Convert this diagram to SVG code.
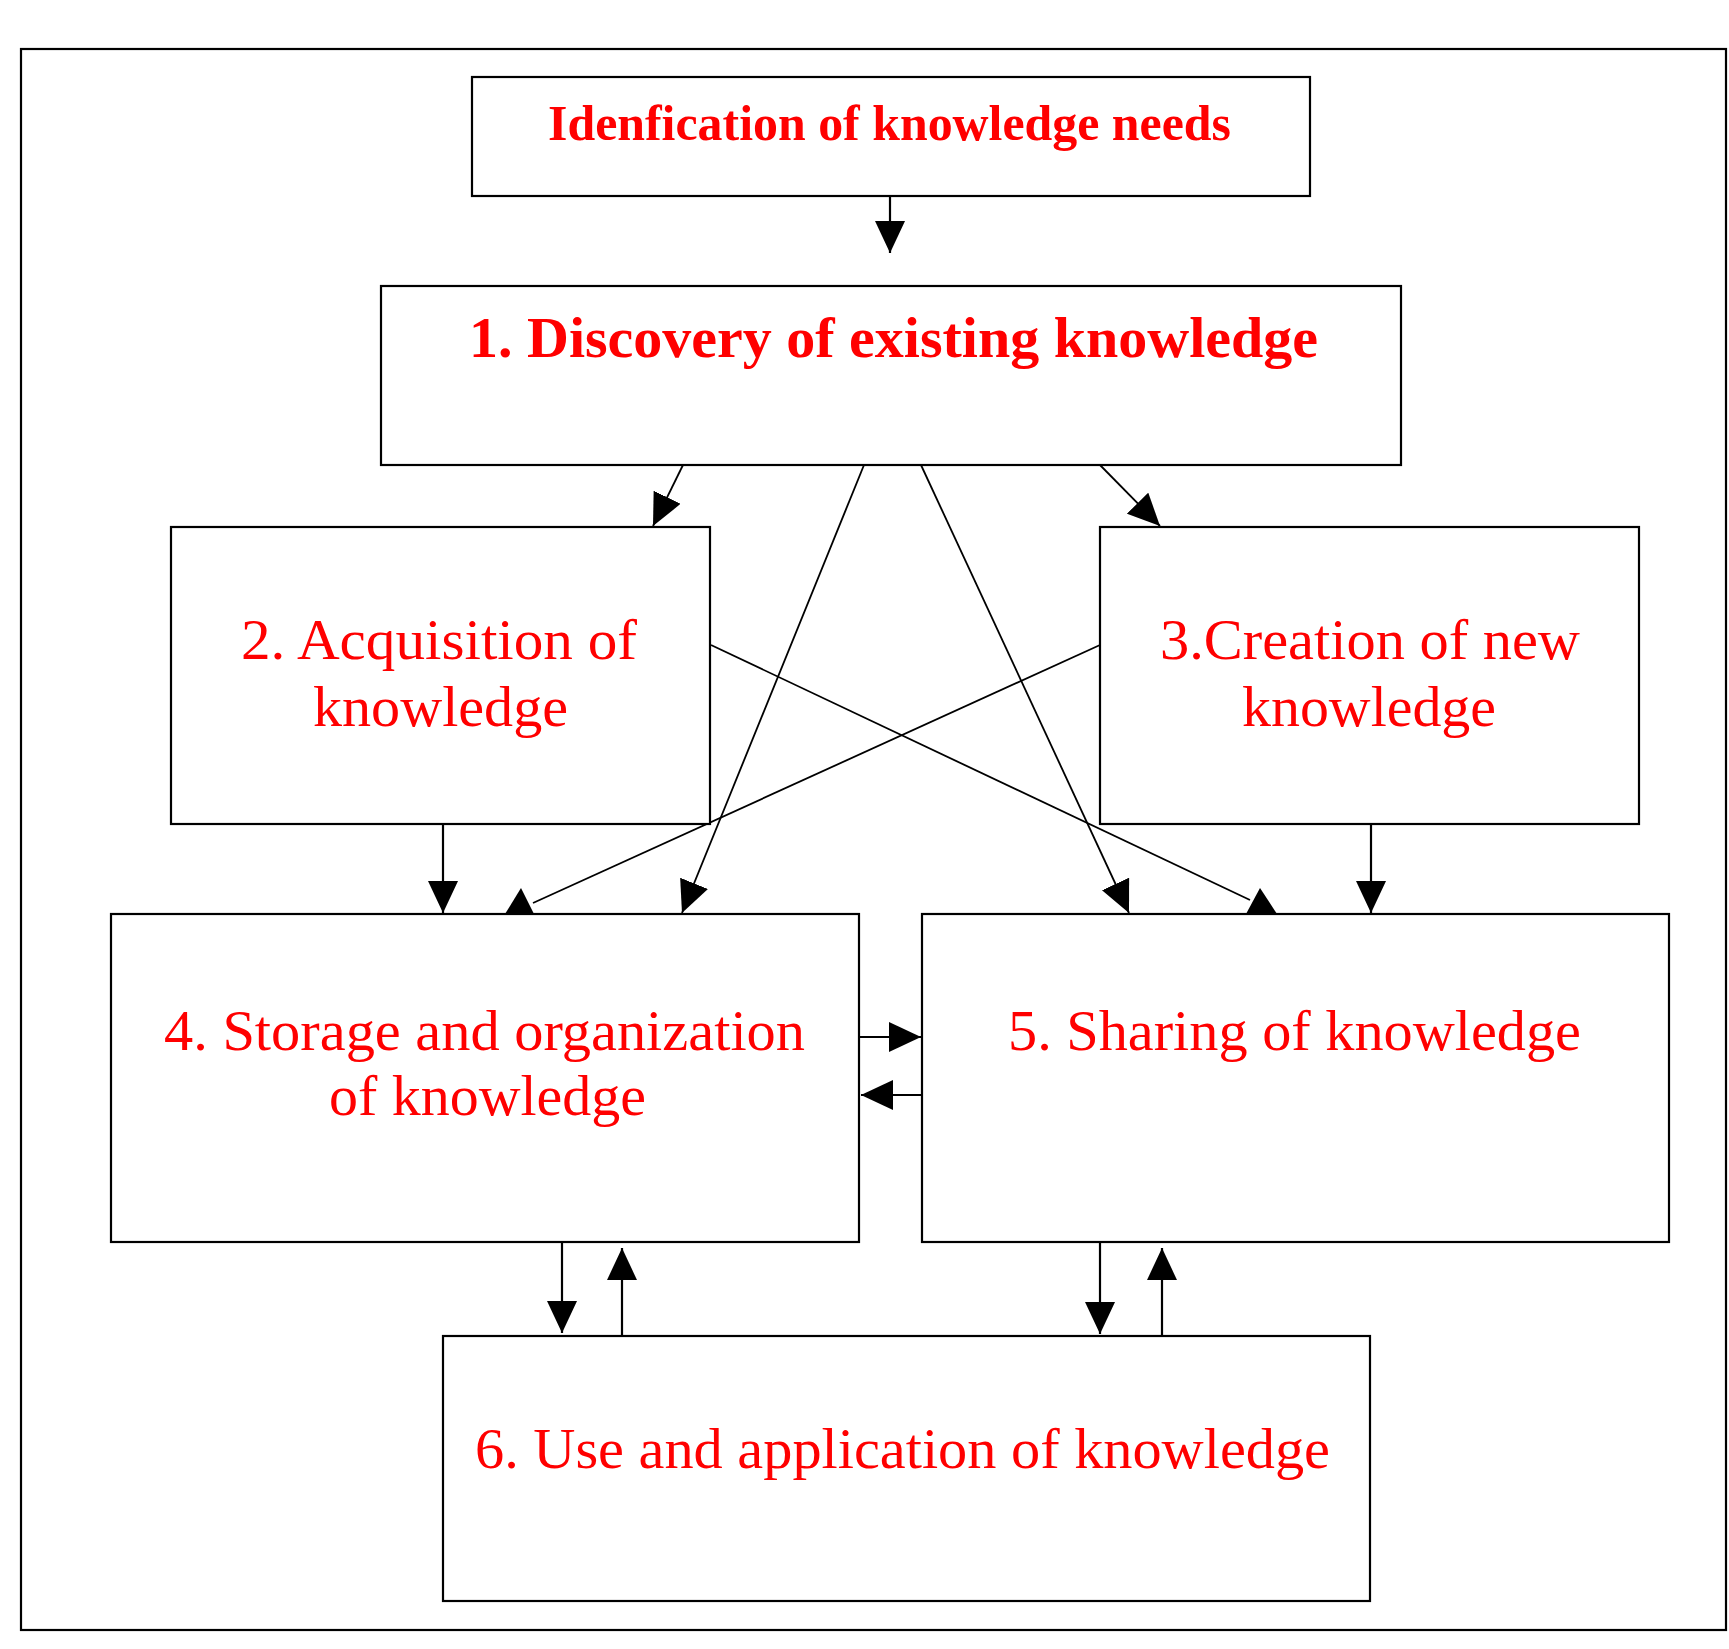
<svg xmlns="http://www.w3.org/2000/svg" width="1729" height="1649" viewBox="0 0 1729 1649">
<style>
.box{fill:#fff;stroke:#000;stroke-width:2.2}
.frame{fill:#fff;stroke:#000;stroke-width:2.2}
.t{fill:#ff0000;font-family:"Liberation Serif","Times New Roman",serif;font-size:57px}
.tb{fill:#ff0000;font-family:"Liberation Serif","Times New Roman",serif;font-weight:bold}
.c{stroke:#000;stroke-width:1.8;fill:none}
.v{stroke:#000;stroke-width:2.2;fill:none}
.head{fill:#000}
</style>
<defs>
<marker id="ah" markerUnits="userSpaceOnUse" markerWidth="32" markerHeight="30" refX="32" refY="15" orient="auto" viewBox="0 0 32 30">
<path d="M0,0 L32,15 L0,30 z" fill="#000"/>
</marker>
</defs>
<rect class="frame" x="21" y="49" width="1705" height="1581"/>
<g id="connectors">
<line class="v" x1="890" y1="196" x2="890" y2="253" marker-end="url(#ah)"/>
<line class="c" x1="683" y1="465" x2="653" y2="526" marker-end="url(#ah)"/>
<line class="c" x1="1100" y1="465" x2="1160" y2="526" marker-end="url(#ah)"/>
<line class="c" x1="864" y1="465" x2="682" y2="913" marker-end="url(#ah)"/>
<line class="c" x1="921" y1="465" x2="1129" y2="913" marker-end="url(#ah)"/>
<line class="c" x1="711" y1="645" x2="1250" y2="900"/>
<polygon class="head" points="1246,914 1277,914 1260,888"/>
<line class="c" x1="1100" y1="645" x2="533" y2="903"/>
<polygon class="head" points="505,914 534,914 521,888"/>
<line class="v" x1="443" y1="824" x2="443" y2="913" marker-end="url(#ah)"/>
<line class="v" x1="1371" y1="824" x2="1371" y2="913" marker-end="url(#ah)"/>
<line class="v" x1="859" y1="1037" x2="921" y2="1037" marker-end="url(#ah)"/>
<line class="v" x1="922" y1="1095" x2="861" y2="1095" marker-end="url(#ah)"/>
<line class="v" x1="562" y1="1242" x2="562" y2="1333" marker-end="url(#ah)"/>
<line class="v" x1="622" y1="1336" x2="622" y2="1248" marker-end="url(#ah)"/>
<line class="v" x1="1100" y1="1242" x2="1100" y2="1334" marker-end="url(#ah)"/>
<line class="v" x1="1162" y1="1336" x2="1162" y2="1248" marker-end="url(#ah)"/>
</g>
<g id="needs">
<rect class="box" x="472" y="77" width="838" height="119"/>
<text class="tb" x="548" y="140" font-size="50" textLength="683" lengthAdjust="spacingAndGlyphs">Idenfication of knowledge needs</text>
</g>
<g id="n1">
<rect class="box" x="381" y="286" width="1020" height="179"/>
<text class="tb" x="469" y="357" font-size="56" textLength="849" lengthAdjust="spacingAndGlyphs">1. Discovery of existing knowledge</text>
</g>
<g id="n2">
<rect class="box" x="171" y="527" width="539" height="297"/>
<text class="t" x="241" y="659" textLength="396" lengthAdjust="spacingAndGlyphs">2. Acquisition of</text>
<text class="t" x="313" y="726" textLength="255" lengthAdjust="spacingAndGlyphs">knowledge</text>
</g>
<g id="n3">
<rect class="box" x="1100" y="527" width="539" height="297"/>
<text class="t" x="1160" y="659" textLength="420" lengthAdjust="spacingAndGlyphs">3.Creation of new</text>
<text class="t" x="1242" y="726" textLength="254" lengthAdjust="spacingAndGlyphs">knowledge</text>
</g>
<g id="n4">
<rect class="box" x="111" y="914" width="748" height="328"/>
<text class="t" x="164" y="1050" textLength="641" lengthAdjust="spacingAndGlyphs">4. Storage and organization</text>
<text class="t" x="329" y="1115" textLength="317" lengthAdjust="spacingAndGlyphs">of knowledge</text>
</g>
<g id="n5">
<rect class="box" x="922" y="914" width="747" height="328"/>
<text class="t" x="1008" y="1050" textLength="573" lengthAdjust="spacingAndGlyphs">5. Sharing of knowledge</text>
</g>
<g id="n6">
<rect class="box" x="443" y="1336" width="927" height="265"/>
<text class="t" x="475" y="1468" textLength="855" lengthAdjust="spacingAndGlyphs">6. Use and application of knowledge</text>
</g>
</svg>
